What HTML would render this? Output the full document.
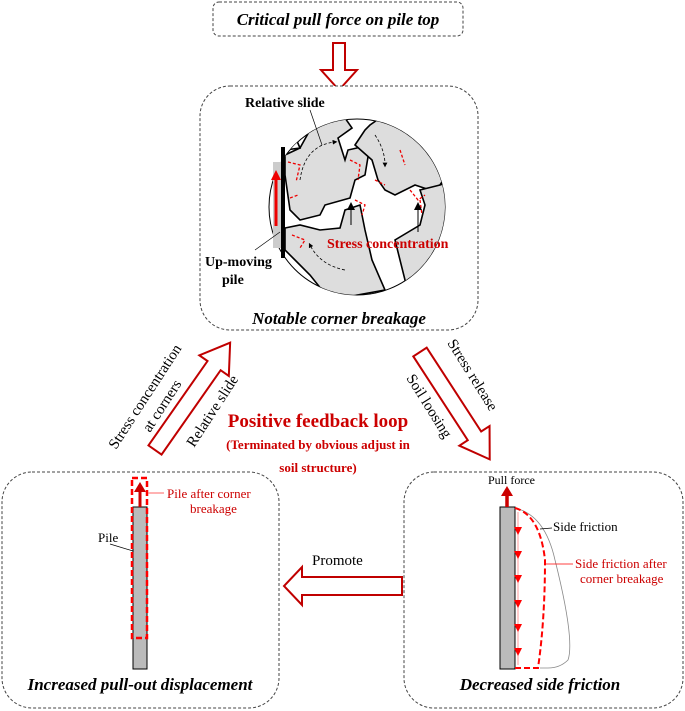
<!DOCTYPE html>
<html><head><meta charset="utf-8"><style>
html,body{margin:0;padding:0;background:#fff}
svg{display:block}
text{font-family:"Liberation Serif",serif}
</style></head><body>
<svg width="685" height="711" viewBox="0 0 685 711" xmlns="http://www.w3.org/2000/svg">
<defs>
<clipPath id="cc"><circle cx="357" cy="207" r="88"/></clipPath>
<marker id="ah" markerWidth="6" markerHeight="6" refX="3" refY="3" orient="auto"><path d="M0,0L6,3L0,6z" fill="#000"/></marker>
</defs>
<rect x="213" y="2" width="250" height="34" rx="6" fill="#fff" stroke="#444" stroke-dasharray="3,2"/>
<text x="338" y="25" font-size="17" font-weight="bold" font-style="italic" text-anchor="middle">Critical pull force on pile top</text>
<path d="M333,43h12v27h12l-18,20l-18,-20h12z" fill="#fff" stroke="#c00000" stroke-width="2"/>
<rect x="200" y="86" width="278" height="244" rx="30" fill="#fff" stroke="#444" stroke-dasharray="3,2"/>
<circle cx="357" cy="207" r="88" fill="#fff" stroke="#000"/>
<g clip-path="url(#cc)" stroke="#000" stroke-width="1.6" fill="#ddd">
<path d="M285,155L300,148L310,130L330,120L345,118L352,128L338,138L345,160L348,150L370,145L365,175L355,180L350,198L325,205L320,215L300,220L290,210L285,175z"/>
<path d="M355,145L365,130L370,125L380,118L390,110L400,100L450,100L450,170L440,185L430,190L415,185L395,195L385,190L378,180L372,160z"/>
<path d="M420,190L440,185L455,180L460,250L430,270L410,300L395,240L420,225L425,205z"/>
<path d="M285,228L300,225L320,230L340,228L345,210L360,205L365,230L372,260L385,290L330,300L310,275L295,260L285,250z"/>
<path d="M285,150L280,140L290,125L300,148z" fill="#fff"/>
</g>
<g fill="none" stroke="#e00" stroke-width="1.3" stroke-dasharray="3,2">
<path d="M288,162L300,165L296,182M290,198L298,195M292,235L305,240L300,248M350,160L360,165L358,180M355,200L365,205L362,215M375,180L385,185M400,150L405,165M410,190L418,200L425,195M420,200L422,215"/>
</g>
<g fill="none" stroke="#000" stroke-width="0.8" stroke-dasharray="3,2">
<path d="M300,180Q305,145 335,142" marker-end="url(#ah)"/>
<path d="M375,135Q385,150 385,165" marker-end="url(#ah)"/>
<path d="M345,270Q320,265 310,245" marker-end="url(#ah)"/>
</g>
<path d="M351,225V205M418,232V205" stroke="#000" stroke-width="1"/>
<path d="M347,210l4,-8l4,8zM414,210l4,-8l4,8z" fill="#000"/>
<rect x="273" y="162" width="9" height="86" fill="#ccc"/>
<line x1="283" y1="147" x2="283" y2="258" stroke="#000" stroke-width="4"/>
<path d="M276,226V178" stroke="#e00" stroke-width="3"/>
<path d="M271,180l5,-10l5,10z" fill="#e00"/>
<line x1="310" y1="110" x2="322" y2="145" stroke="#000" stroke-width="0.7"/>
<line x1="255" y1="250" x2="280" y2="232" stroke="#000" stroke-width="0.7"/>
<text x="245" y="107" font-size="14" font-weight="bold">Relative slide</text>
<text x="205" y="266" font-size="14" font-weight="bold">Up-moving</text>
<text x="222" y="284" font-size="14" font-weight="bold">pile</text>
<text x="327" y="248" font-size="14" font-weight="bold" fill="#c00">Stress concentration</text>
<text x="339" y="324" font-size="17" font-weight="bold" font-style="italic" text-anchor="middle">Notable corner breakage</text>
<g transform="translate(155,450) rotate(-55)">
<path d="M0,-8H103V-18L131,0L103,18V8H0z" fill="#fff" stroke="#c00000" stroke-width="2"/>
</g>
<g transform="translate(420,352) rotate(57)">
<path d="M0,-8H100V-18L128,0L100,18V8H0z" fill="#fff" stroke="#c00000" stroke-width="2"/>
</g>
<g font-size="15">
<text transform="translate(116,450) rotate(-57)">Stress concentration</text>
<text transform="translate(150,433) rotate(-57)">at corners</text>
<text transform="translate(194,448) rotate(-57)">Relative slide</text>
<text transform="translate(447,343) rotate(58)">Stress release</text>
<text transform="translate(406,378) rotate(58)">Soil loosing</text>
</g>
<text x="318" y="427" font-size="19" font-weight="bold" fill="#c00" text-anchor="middle">Positive feedback loop</text>
<text x="318" y="449" font-size="13" font-weight="bold" fill="#c00" text-anchor="middle">(Terminated by obvious adjust in</text>
<text x="318" y="472" font-size="13" font-weight="bold" fill="#c00" text-anchor="middle">soil structure)</text>
<rect x="2" y="472" width="277" height="236" rx="30" fill="#fff" stroke="#444" stroke-dasharray="3,2"/>
<rect x="133" y="507" width="14" height="162" fill="#bbb" stroke="#000"/>
<path d="M140,507V490" stroke="#c00" stroke-width="3"/>
<path d="M134,492l6,-10l6,10z" fill="#c00"/>
<rect x="132" y="478" width="15" height="160" fill="none" stroke="#f00" stroke-width="2.5" stroke-dasharray="6,3"/>
<line x1="148" y1="493" x2="164" y2="493" stroke="#f66"/>
<text x="167" y="498" font-size="13" fill="#c00">Pile after corner</text>
<text x="190" y="513" font-size="13" fill="#c00">breakage</text>
<text x="98" y="542" font-size="13">Pile</text>
<line x1="110" y1="544" x2="133" y2="551" stroke="#000" stroke-width="0.7"/>
<text x="140" y="690" font-size="17" font-weight="bold" font-style="italic" text-anchor="middle">Increased pull-out displacement</text>
<path d="M402,577V595H302V605L284,586L302,567V577z" fill="#fff" stroke="#c00000" stroke-width="2"/>
<text x="312" y="565" font-size="15">Promote</text>
<rect x="404" y="472" width="279" height="236" rx="30" fill="#fff" stroke="#444" stroke-dasharray="3,2"/>
<rect x="500" y="507" width="15" height="162" fill="#bbb" stroke="#000"/>
<path d="M507,507V494" stroke="#c00" stroke-width="3.5"/>
<path d="M501,496l6,-10l6,10z" fill="#c00"/>
<text x="488" y="484" font-size="12">Pull force</text>
<path d="M515,508Q545,515 555,560Q575,640 568,660Q560,668 548,668H540" fill="none" stroke="#888" stroke-width="0.8"/>
<path d="M515,508Q540,515 545,560Q545,620 538,668H515" fill="none" stroke="#f00" stroke-width="2" stroke-dasharray="6,3"/>
<g stroke="#f99" stroke-width="1"><path d="M518,512V665"/></g>
<g fill="#f00"><path d="M514,527h8l-4,8zM514,551h8l-4,8zM514,575h8l-4,8zM514,600h8l-4,8zM514,624h8l-4,8zM514,648h8l-4,8z"/></g>
<line x1="540" y1="529" x2="552" y2="528" stroke="#000" stroke-width="0.7"/>
<text x="553" y="531" font-size="13">Side friction</text>
<line x1="545" y1="564" x2="573" y2="564" stroke="#f00" stroke-width="0.7"/>
<text x="575" y="568" font-size="13" fill="#c00">Side friction after</text>
<text x="580" y="583" font-size="13" fill="#c00">corner breakage</text>
<text x="540" y="690" font-size="17" font-weight="bold" font-style="italic" text-anchor="middle">Decreased side friction</text>
</svg>
</body></html>
